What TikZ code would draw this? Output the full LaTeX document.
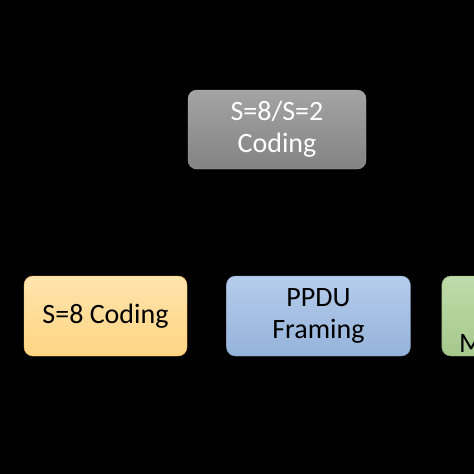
\documentclass[tikz,border=0pt]{standalone}
\usepackage{xcolor}
\usepackage{fontspec}
\setmainfont{Carlito}
\usepackage{tikz}
\usetikzlibrary{positioning}
\definecolor{scGray}{HTML}{9A9A9A}
\definecolor{scGold}{HTML}{FFD98A}
\definecolor{scBlue}{HTML}{9DBCE6}
\definecolor{scGreen}{HTML}{AED394}

\begin{document}
\begin{tikzpicture}[
  x=1pt, y=-1pt,
  block/.style={rounded corners=9pt, minimum height=80pt, align=center,
               inner sep=0pt, font=\fontsize{28}{32}\selectfont},
  codeblk/.style={block, draw=scGray!80!white, top color=scGray!90!white,
               bottom color=scGray!85!black, text=white,
               minimum width=178pt, minimum height=79pt},
  goldblk/.style={block, draw=scGold!70!orange, top color=scGold!70!white,
               bottom color=scGold!95!orange, minimum width=163pt},
  blueblk/.style={block, draw=scBlue!80!black, top color=scBlue!75!white,
               bottom color=scBlue!95!black, minimum width=184pt},
  greenblk/.style={block, draw=scGreen!80!black, top color=scGreen!80!white,
               bottom color=scGreen!95!black, minimum width=184pt}
]
  \useasboundingbox (0,0) rectangle (474,474);
  \fill[black] (0,0) rectangle (474,474);
  \clip (0,0) rectangle (474,474);

  \node[codeblk] (both) at (277,129.5) {S=8/S=2\\Coding};
  \node[goldblk] (s8) at (105.5,316) {S=8 Coding};
  \node[blueblk, right=39pt of s8] (ppdu) {PPDU\\Framing};
  \node[greenblk, right=31pt of ppdu] (mod) {};
  \node[anchor=base west, inner sep=0pt, font=\fontsize{28}{32}\selectfont]
    (modtxt) at (459,352) {M};
\end{tikzpicture}
\end{document}
